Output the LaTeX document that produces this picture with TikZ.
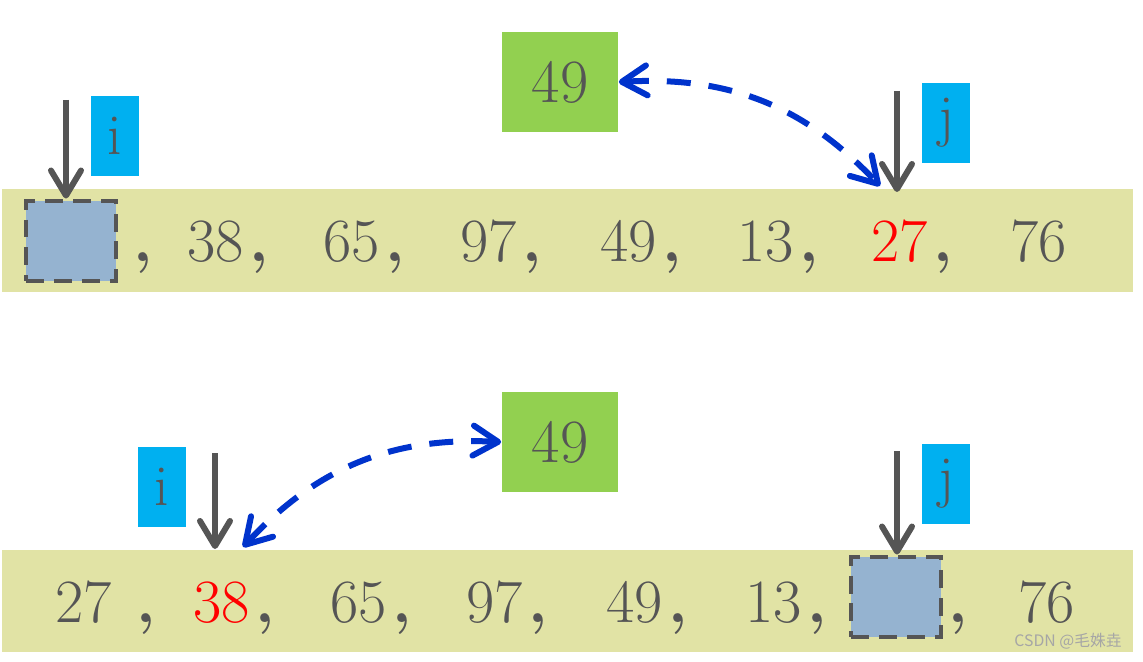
\documentclass[tikz,border=0pt]{standalone}
\usepackage{fontspec}
\newfontfamily\cjk{Noto Sans CJK SC}
\usetikzlibrary{arrows.meta,calc}
\definecolor{bandY}{RGB}{225,227,165}
\definecolor{boxG}{RGB}{146,208,80}
\definecolor{tagB}{RGB}{0,176,240}
\definecolor{slotB}{RGB}{149,179,208}
\definecolor{inkG}{RGB}{85,85,85}
\definecolor{swapB}{RGB}{0,51,204}
\newcommand{\cm}{\kern0.1em\textbf{,}}

\begin{document}
\begin{tikzpicture}[x=0.02cm,y=-0.02cm,
  num/.style={font=\fontsize{35}{40}\selectfont,text=inkG,inner sep=0pt,anchor=base west},
  pivot/.style={fill=boxG,minimum width=2.34cm,minimum height=2cm,inner sep=0pt,
    font=\fontsize{35}{40}\selectfont,text=inkG},
  tag/.style={fill=tagB,minimum width=0.96cm,minimum height=1.6cm,inner sep=0pt,
    font=\fontsize{33}{36}\selectfont,text=inkG},
  slot/.style={fill=slotB,draw=inkG,line width=0.08cm,dash pattern=on 0.36cm off 0.2cm,
    minimum width=1.8cm,minimum height=1.62cm,inner sep=0pt},
  ptr/.style={draw=inkG,line width=0.12cm,-{Straight Barb[length=5mm,width=6mm,round]}},
  swap/.style={draw=swapB,line width=0.12cm,dash pattern=on 0.48cm off 0.36cm,
    {Straight Barb[length=5mm,width=6mm,round]}-{Straight Barb[length=5mm,width=6mm,round]}}]
\useasboundingbox (0,0) rectangle (1143,662);
% bands
\fill[bandY] (2,189) rectangle (1133,292);
\fill[bandY] (2,550) rectangle (1133,652);

% first pass: j stops at 27
\node[slot] (slotT) at (71,241) {};
\node[num] (cT) at (133,262) {\textbf{,}};
\node[num] (t38) at (187,262) {38\cm};
\node[num] (t65) at (323,262) {65\cm};
\node[num] (t97) at (460,262) {97\cm};
\node[num] (t49) at (600,262) {49\cm};
\node[num] (t13) at (737,262) {13\cm};
\node[num] (t27) at (871,262) {\textcolor{red}{27}\cm};
\node[num] (t76) at (1010,262) {76};
\node[pivot] (pvT) at (560,82) {49};
\node[tag] (iT) at (115,136) {i};
\node[tag] (jT) at (946,123) {j};
\coordinate (iTs) at (66,100);
\coordinate (jTs) at (897,91);
\coordinate (jTe) at (897,192);
\coordinate (swT) at (880,186);
\draw[ptr] (iTs) -- (slotT.north -| iTs);
\draw[ptr] (jTs) -- (jTe);
\draw[swap] (pvT.east) to[bend left=25] (swT);

% second pass: i stops at 38
\node[num] (b27) at (55,622) {27\kern0.4em\textbf{,}};
\node[num] (b38) at (193,622) {\textcolor{red}{38}\cm};
\node[num] (b65) at (330,622) {65\cm};
\node[num] (b97) at (466,622) {97\cm};
\node[num] (b49) at (606,622) {49\cm};
\node[num] (b13) at (745,622) {13\cm};
\node[slot] (slotB) at (896,597) {};
\node[num] (cB) at (948,622) {\textbf{,}};
\node[num] (b76) at (1018,622) {76};
\node[pivot] (pvB) at (560,442) {49};
\node[tag] (iB) at (162,487) {i};
\node[tag] (jB) at (946,484) {j};
\coordinate (iBs) at (215,453);
\coordinate (iBe) at (215,549);
\coordinate (jBs) at (897,451);
\coordinate (swB) at (243,547);
\draw[ptr] (iBs) -- (iBe);
\draw[ptr] (jBs) -- (slotB.north -| jBs);
\draw[swap] (pvB.west) to[bend right=25] (swB);

\node[font=\cjk\fontsize{9}{10}\selectfont,text=black!35,anchor=east] (mark) at (1128,641) {CSDN @毛姝垚};
\end{tikzpicture}
\end{document}
